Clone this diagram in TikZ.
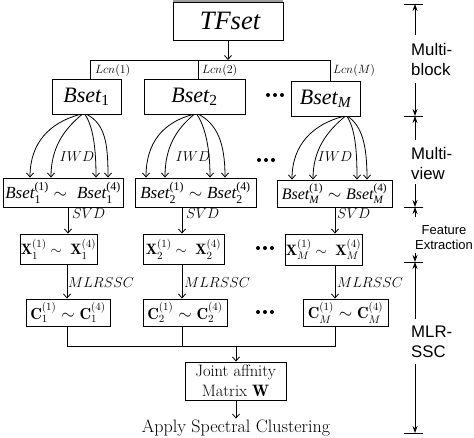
\documentclass[tikz,border=0pt]{standalone}
\usepackage{amsmath}
\usepackage{fontspec}
\newfontfamily\tnr{Liberation Serif}
\newfontfamily\arl{Liberation Sans}
\usetikzlibrary{arrows.meta}
\newcommand\Bsx[2]{\text{\tnr\itshape Bset}_{\text{\tnr #1}}^{\text{\tnr #2}}}
\begin{document}
\begin{tikzpicture}[x=1pt,y=-1pt,
  box/.style={draw, line width=0.9pt, inner sep=0pt, align=center},
  arr/.style={line width=0.8pt, -{Straight Barb[length=4pt,width=7pt]}},
  ln/.style={line width=0.8pt},
  lab/.style={inner sep=0pt, anchor=west},
  side/.style={line width=0.8pt, -{Stealth[length=7pt,width=5pt]}},
  tick/.style={line width=0.8pt},
  sidetxt/.style={font=\arl\fontsize{16.8}{20}\selectfont, align=left, inner sep=0pt, anchor=west},
  dot/.style={circle, fill, inner sep=0pt, minimum size=4pt}
]
\useasboundingbox (0,0) rectangle (474,437);

% top
\node[box, minimum width=110pt, minimum height=37.5pt, font=\tnr\itshape\fontsize{26.5}{30}\selectfont] (TF) at (228,21.25) {\hspace*{4pt}TFset};
\draw[gray!75, line width=2.5pt] (TF.north west) ++(0,-1.3) coordinate (tfa) (TF.north east) ++(0,-1.3) coordinate (tfb);
\draw[gray!75, line width=2.5pt] (tfa) -- (tfb);

\node[box, minimum width=69pt, minimum height=35pt, font=\fontsize{22}{26}\selectfont] (B1) at (86.5,96.5) {$\text{\tnr\itshape Bset}_{\text{\tnr 1}}$};
\node[box, minimum width=101pt, minimum height=35pt, font=\fontsize{22}{26}\selectfont] (B2) at (194.5,96.5) {$\text{\tnr\itshape Bset}_{\text{\tnr 2}}$};
\node[box, minimum width=69pt, minimum height=35pt, font=\fontsize{22}{26}\selectfont] (BM) at (325.5,98.5) {$\text{\tnr\itshape Bset}_{\text{\tnr\itshape M}}$};

\coordinate (j0) at (228,60);
\coordinate (jl) at (90,60);
\coordinate (jm) at (198,60);
\coordinate (jr) at (330,60);
\draw[arr] (TF) -- (j0);
\draw[ln] (jl) -- (jr);
\draw[ln] (jl) -- (jl |- B1.north);
\draw[ln] (jm) -- (jm |- B2.north);
\draw[ln] (jr) -- (jr |- BM.north);
\node[lab, font=\fontsize{13}{15}\selectfont] (l1) at (95,70) {$Lcn(1)$};
\node[lab, font=\fontsize{13}{15}\selectfont] (l2) at (202,70) {$Lcn(2)$};
\node[lab, font=\fontsize{13}{15}\selectfont] (lM) at (333,70) {$Lcn(M)$};

% view boxes
\node[box, minimum width=120pt, minimum height=29pt, font=\fontsize{17}{20}\selectfont] (V1) at (63,192.5) {$\Bsx{1}{(1)} \sim\ \Bsx{1}{(4)}$};
\node[box, minimum width=121pt, minimum height=29pt, font=\fontsize{17}{20}\selectfont] (V2) at (195.5,192.5) {$\Bsx{2}{(1)} \sim \Bsx{2}{(4)}$};
\node[box, minimum width=115pt, minimum height=27pt, font=\fontsize{16}{19}\selectfont] (VM) at (334.5,193.5) {$\Bsx{\itshape M}{(1)} \sim \Bsx{\itshape M}{(4)}$};

% IWD curves row 1
\draw[arr] ([xshift=-6.5pt]B1.south) .. controls +(-30,8) and +(0,-35) .. ([xshift=-33pt]V1.north);
\draw[arr] ([xshift=-4.5pt]B1.south) .. controls +(-18,15) and +(0,-30) .. ([xshift=-12pt]V1.north);
\draw[arr] ([xshift=-1.5pt]B1.south) .. controls +(8,12) and +(0,-30) .. ([xshift=33pt]V1.north);
\draw[arr] ([xshift=0.5pt]B1.south) .. controls +(18,10) and +(0,-35) .. ([xshift=45pt]V1.north);
% row 2
\draw[arr] ([xshift=-1.5pt]B2.south) .. controls +(-30,8) and +(0,-35) .. ([xshift=-49.5pt]V2.north);
\draw[arr] ([xshift=-0.5pt]B2.south) .. controls +(-18,15) and +(0,-30) .. ([xshift=-30.5pt]V2.north);
\draw[arr] ([xshift=2.5pt]B2.south) .. controls +(8,12) and +(0,-30) .. ([xshift=14.5pt]V2.north);
\draw[arr] ([xshift=4.5pt]B2.south) .. controls +(18,10) and +(0,-35) .. ([xshift=29.5pt]V2.north);
% row M
\draw[arr] ([xshift=17.5pt]BM.south) .. controls +(-30,8) and +(0,-35) .. ([xshift=-42.5pt]VM.north);
\draw[arr] ([xshift=19.5pt]BM.south) .. controls +(-18,15) and +(0,-30) .. ([xshift=-21.5pt]VM.north);
\draw[arr] ([xshift=21.5pt]BM.south) .. controls +(8,12) and +(0,-30) .. ([xshift=22.5pt]VM.north);
\draw[arr] ([xshift=22.5pt]BM.south) .. controls +(14,10) and +(0,-35) .. ([xshift=32.5pt]VM.north);

\node[font=\fontsize{15.5}{18}\selectfont, inner sep=0pt] (i1) at (77,157) {$IWD$};
\node[font=\fontsize{15.5}{18}\selectfont, inner sep=0pt] (i2) at (193,157) {$IWD$};
\node[font=\fontsize{15.5}{18}\selectfont, inner sep=0pt] (iM) at (335,157) {$IWD$};

% X boxes
\node[box, minimum width=77pt, minimum height=30pt, font=\fontsize{15}{18}\selectfont] (X1) at (58.5,249) {$\mathbf{X}_1^{(1)} \sim\ \mathbf{X}_1^{(4)}$};
\node[box, minimum width=81pt, minimum height=30pt, font=\fontsize{15}{18}\selectfont] (X2) at (183.5,249) {$\mathbf{X}_2^{(1)} \sim\ \mathbf{X}_2^{(4)}$};
\node[box, minimum width=77pt, minimum height=31pt, font=\fontsize{15}{18}\selectfont] (XM) at (323.5,249.5) {$\mathbf{X}_M^{(1)} \sim\ \mathbf{X}_M^{(4)}$};

\coordinate (s1) at (68,0);
\coordinate (s2) at (182,0);
\coordinate (sM) at (335,0);
\draw[arr] (V1.south -| s1) -- (X1.north -| s1);
\draw[arr] (V2.south -| s2) -- (X2.north -| s2);
\draw[arr] (VM.south -| sM) -- (XM.north -| sM);
\node[lab, font=\fontsize{15}{17}\selectfont] (sv1) at (72,214) {$SVD$};
\node[lab, font=\fontsize{15}{17}\selectfont] (sv2) at (186,214) {$SVD$};
\node[lab, font=\fontsize{15}{17}\selectfont] (svM) at (337,214) {$SVD$};

% C boxes
\node[box, minimum width=84pt, minimum height=27pt, font=\fontsize{16}{19}\selectfont] (C1) at (68,312.5) {$\mathbf{C}_1^{(1)} \sim \mathbf{C}_1^{(4)}$};
\node[box, minimum width=84pt, minimum height=27pt, font=\fontsize{16}{19}\selectfont] (C2) at (185,312.5) {$\mathbf{C}_2^{(1)} \sim \mathbf{C}_2^{(4)}$};
\node[box, minimum width=85pt, minimum height=27pt, font=\fontsize{16}{19}\selectfont] (CM) at (345.5,312.5) {$\mathbf{C}_M^{(1)} \sim \mathbf{C}_M^{(4)}$};

\coordinate (m1) at (67,0);
\coordinate (m2) at (182,0);
\coordinate (mM) at (335,0);
\draw[arr] (X1.south -| m1) -- (C1.north -| m1);
\draw[arr] (X2.south -| m2) -- (C2.north -| m2);
\draw[arr] (XM.south -| mM) -- (CM.north -| mM);
\node[lab, font=\fontsize{13.5}{15}\selectfont] (ml1) at (68,283) {$MLRSSC$};
\node[lab, font=\fontsize{13.5}{15}\selectfont] (ml2) at (184,283) {$MLRSSC$};
\node[lab, font=\fontsize{13.5}{15}\selectfont] (mlM) at (337,283) {$MLRSSC$};

% dots
\node[dot] (d1a) at (268,95) {}; \node[dot] (d1b) at (275,95) {}; \node[dot] (d1c) at (282,95) {};
\node[dot] (d2a) at (259,160) {}; \node[dot] (d2b) at (266,160) {}; \node[dot] (d2c) at (273,160) {};
\node[dot] (d3a) at (258,248) {}; \node[dot] (d3b) at (265,248) {}; \node[dot] (d3c) at (272,248) {};
\node[dot] (d4a) at (258,312) {}; \node[dot] (d4b) at (265,312) {}; \node[dot] (d4c) at (272,312) {};

% join
\coordinate (k1) at (67,346);
\coordinate (k2) at (182,346);
\coordinate (kM) at (335,346);
\coordinate (kj) at (236,346);
\draw[ln] (C1.south -| k1) -- (k1) -- (kM) -- (CM.south -| kM);
\draw[ln] (C2.south -| k2) -- (k2);
\node[box, minimum width=101pt, minimum height=38pt, font=\fontsize{16.5}{19.5}\selectfont] (J) at (235.5,381) {Joint affnity\\Matrix $\mathbf{W}$};
\draw[arr] (kj) -- (kj |- J.north);
\node[font=\fontsize{18}{21}\selectfont, inner sep=1pt] (A) at (236,428) {Apply Spectral Clustering};
\draw[arr] (J.south -| kj) -- (A.north -| kj);

% right side scale
\coordinate (t0) at (415,4);
\coordinate (t1) at (415,116);
\coordinate (t2) at (415,207);
\coordinate (t3) at (415,262);
\coordinate (t4) at (415,433);
\foreach \t in {t0,t1,t2,t3,t4} \draw[tick] ([xshift=-11pt]\t) -- ([xshift=8pt]\t);
\coordinate (a1) at (415,35);  \coordinate (a2) at (415,83);
\coordinate (a3) at (415,140); \coordinate (a4) at (415,184);
\coordinate (a5) at (415,217); \coordinate (a6) at (415,253);
\coordinate (a7) at (415,319); \coordinate (a8) at (415,364);
\draw[side] (a1) -- (t0);
\draw[side] (a2) -- (t1);
\draw[side] (a3) -- (t1);
\draw[side] (a4) -- (t2);
\draw[side] (a5) -- (t2);
\draw[side] (a6) -- (t3);
\draw[side] (a7) -- (t3);
\draw[side] (a8) -- (t4);
\node[sidetxt] (r1) at (411,59) {Multi-\\block};
\node[sidetxt] (r2) at (411,163) {Multi-\\view};
\node[sidetxt, font=\arl\fontsize{13}{15.5}\selectfont, align=center, anchor=center] (r3) at (444,237.5) {Feature\\Extraction};
\node[sidetxt] (r4) at (411,341.5) {MLR-\\SSC};
\end{tikzpicture}
\end{document}
